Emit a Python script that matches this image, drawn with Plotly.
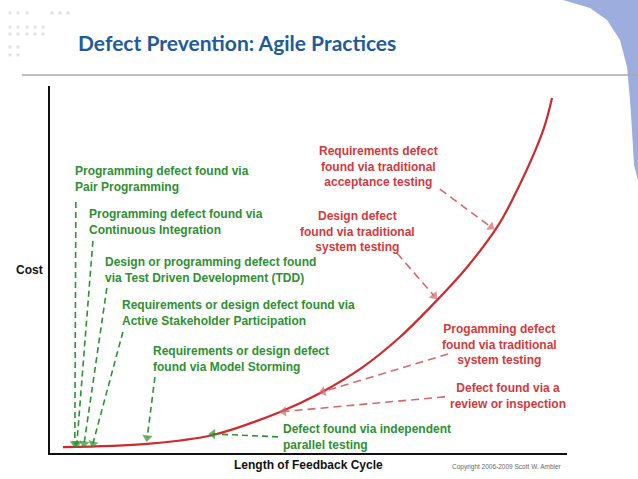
import plotly.graph_objects as go

# ---- data (axis units: 0-100 on both axes) ----
curve_x = [2.5, 18.8, 31.5, 44.5, 52.2, 60.5, 67.7, 74.9, 80.7, 86.5, 89.6, 95.4, 97.1]
curve_y = [1.6, 2.5, 4.9, 11.2, 16.3, 23.4, 31.6, 41.7, 50.7, 61.6, 69.5, 88.0, 96.7]

green_labels = [
    "Programming defect found via<br>Pair Programming",
    "Programming defect found via<br>Continuous Integration",
    "Design or programming defect found<br>via Test Driven Development (TDD)",
    "Requirements or design defect found via<br>Active Stakeholder Participation",
    "Requirements or design defect<br>found via Model Storming",
    "Defect found via independent<br>parallel testing",
]
green_label_x = [4.45, 7.16, 10.25, 13.5, 19.5, 44.7]
green_label_y = [74.6, 63.0, 49.8, 38.1, 25.5, 4.3]
green_arrow_from = [(5.0, 68.4), (8.3, 57.8), (11.0, 45.0), (14.1, 33.0), (20.3, 20.7), (44.1, 4.4)]
green_arrow_to = [(4.8, 2.6), (5.2, 2.6), (6.6, 2.6), (8.3, 2.6), (18.8, 4.2), (31.5, 5.2)]

red_labels = [
    "Requirements defect<br>found via traditional<br>acceptance testing",
    "Design defect<br>found via traditional<br>system testing",
    "Progamming defect<br>found via traditional<br>system testing",
    "Defect found via a<br>review or inspection",
]
red_label_x = [63.6, 59.4, 87.0, 88.6]
red_label_y = [78.1, 60.4, 29.6, 15.5]
red_arrow_from = [(75.4, 71.9), (67.1, 54.5), (77.0, 27.0), (76.4, 15.3)]
red_arrow_to = [(85.3, 61.6), (74.3, 42.8), (52.8, 16.7), (45.2, 11.3)]

# ---- layout constants ----
W, H = 638, 479
L, R, T, B = 50, 71, 86, 26
PW, PH = W - L - R, H - T - B

GREEN = "#2f8f33"
RED_TXT = "#d03a3e"
RED_ARROW = "#d9676c"
CURVE = "#cc2a2e"
FONT = "Liberation Sans, Arial, sans-serif"


def px(x):
    return (x - L) / PW


def py(y):
    return (H - B - y) / PH


fig = go.Figure()

fig.add_trace(go.Scatter(x=curve_x, y=curve_y, mode="lines",
                         line=dict(color=CURVE, width=2.2, shape="spline", smoothing=1.0),
                         hoverinfo="skip"))


def add_arrow(p0, p1, color, dash):
    fig.add_trace(go.Scatter(
        x=[p0[0], p1[0]], y=[p0[1], p1[1]], mode="lines+markers",
        line=dict(color=color, width=1.6, dash=dash),
        marker=dict(symbol="triangle-up", size=[0, 9], color=color, angleref="previous",
                    line=dict(width=0)),
        hoverinfo="skip"))


for a, b in zip(green_arrow_from, green_arrow_to):
    add_arrow(a, b, GREEN, "6px,4px")
for a, b in zip(red_arrow_from, red_arrow_to):
    add_arrow(a, b, RED_ARROW, "8px,5px")

annotations = []
for t, x, y in zip(green_labels, green_label_x, green_label_y):
    annotations.append(dict(x=x, y=y, text=t, showarrow=False, align="left",
                            xanchor="left", yanchor="middle",
                            font=dict(family=FONT, size=12, color=GREEN, weight="bold")))
for t, x, y in zip(red_labels, red_label_x, red_label_y):
    annotations.append(dict(x=x, y=y, text=t, showarrow=False, align="center",
                            xanchor="center", yanchor="middle",
                            font=dict(family=FONT, size=12, color=RED_TXT, weight="bold")))

# titles and slide texts
annotations += [
    dict(xref="paper", yref="paper", x=px(76), y=py(42), text="Defect Prevention: Agile Practices",
         showarrow=False, xanchor="left", yanchor="middle",
         font=dict(family="Lato, Open Sans, sans-serif", size=21, color="#1f5b99", weight="bold")),
    dict(xref="paper", yref="paper", x=px(29), y=py(270), text="Cost", showarrow=False,
         xanchor="center", yanchor="middle",
         font=dict(family=FONT, size=12, color="#111111", weight="bold")),
    dict(xref="paper", yref="paper", x=px(308), y=py(465), text="Length of Feedback Cycle",
         showarrow=False, xanchor="center", yanchor="middle",
         font=dict(family=FONT, size=12, color="#111111", weight="bold")),
    dict(xref="paper", yref="paper", x=px(564), y=py(467), text="Copyright 2006-2009 Scott W. Ambler",
         showarrow=False, xanchor="right", yanchor="middle",
         font=dict(family=FONT, size=6.5, color="#666666")),
]

shapes = []
# blue decorative corner
corner = [(563, 0), (590, 8), (607, 20), (620, 40), (627, 67), (630, 100), (632, 130),
          (634, 165), (638, 180), (640, 180), (640, 0)]
path = "M " + " L ".join(f"{px(a):.4f},{py(b):.4f}" for a, b in corner) + " Z"
shapes.append(dict(type="path", xref="paper", yref="paper", path=path,
                   fillcolor="#9daede", line=dict(width=0), layer="below"))
# header rule
shapes.append(dict(type="line", xref="paper", yref="paper", x0=px(22), x1=px(640), y0=py(75), y1=py(75),
                   line=dict(color="#a8a8a8", width=1.5)))
# decorative dots
dots = [(10, 13), (18, 13), (27, 13), (52, 13), (60, 13), (68, 13)]
dots += [(xx, yy) for yy in (27, 34) for xx in (10, 18, 27, 35, 43)]
dots += [(xx, yy) for yy in (47, 55) for xx in (10, 18)]
for xx, yy in dots:
    shapes.append(dict(type="rect", xref="paper", yref="paper",
                       x0=px(xx - 1.5), x1=px(xx + 1.5), y0=py(yy + 1.5), y1=py(yy - 1.5),
                       fillcolor="#e2e2e2", line=dict(width=0)))

fig.update_layout(
    width=W, height=H, autosize=False,
    margin=dict(l=L, r=R, t=T, b=B, pad=0),
    paper_bgcolor="white", plot_bgcolor="white",
    showlegend=False,
    annotations=annotations, shapes=shapes,
    xaxis=dict(range=[0, 100], showgrid=False, zeroline=False, showticklabels=False, ticks="",
               showline=True, linecolor="#111111", linewidth=2, fixedrange=True),
    yaxis=dict(range=[0, 100], showgrid=False, zeroline=False, showticklabels=False, ticks="",
               showline=True, linecolor="#111111", linewidth=2, fixedrange=True),
)

fig.write_html("out.html", config={"displayModeBar": False},
               post_script="document.body.style.margin='0px';document.body.style.overflow='hidden';")
